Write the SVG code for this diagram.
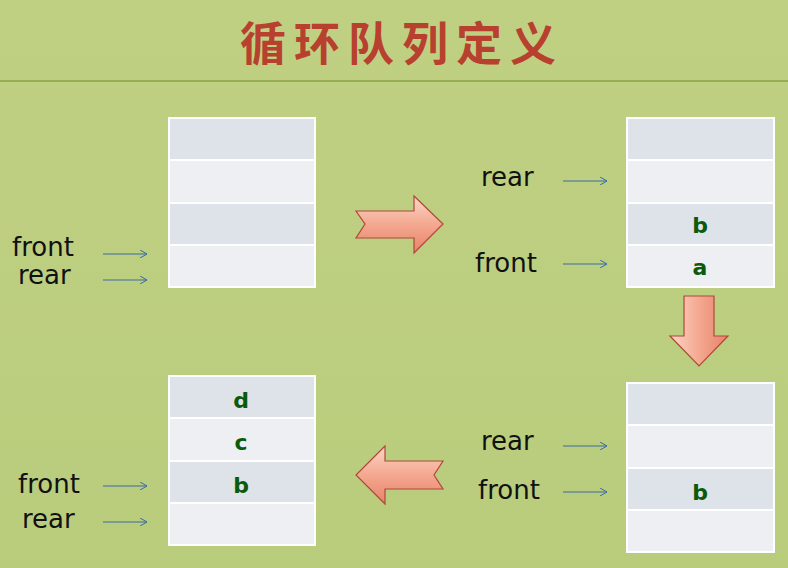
<svg xmlns="http://www.w3.org/2000/svg" width="788" height="568" viewBox="0 0 788 568">
<defs>
<linearGradient id="bg" x1="0" y1="0" x2="0" y2="1"><stop offset="0" stop-color="#c0d083"/><stop offset="1" stop-color="#b9cc7c"/></linearGradient>
<linearGradient id="pk" x1="0" y1="0" x2="0" y2="1"><stop offset="0" stop-color="#fbd6c8"/><stop offset="0.5" stop-color="#f4a890"/><stop offset="1" stop-color="#e8826a"/></linearGradient>
<linearGradient id="pkh" x1="0" y1="0" x2="1" y2="0"><stop offset="0" stop-color="#fbd6c8"/><stop offset="0.5" stop-color="#f4a890"/><stop offset="1" stop-color="#e8826a"/></linearGradient>
<marker id="ah" markerWidth="8" markerHeight="8" refX="7" refY="4" orient="auto" markerUnits="userSpaceOnUse"><path d="M0,0 L7,4 L0,8" fill="none" stroke="#3a6aa0" stroke-width="1"/></marker>
<style>
.c1{fill:#dde3e8}.c2{fill:#edeff3}
.lb{font-family:"DejaVu Sans",sans-serif;font-size:26px;fill:#111}
.v{font-family:"DejaVu Sans",sans-serif;font-size:22px;font-weight:bold;fill:#0a5a0a;text-anchor:middle}
.ptr{stroke:#3a6aa0;stroke-width:1;marker-end:url(#ah)}
.big{stroke:#b0483a;stroke-width:1.2}
</style>
</defs>
<rect width="788" height="568" fill="url(#bg)"/>
<line x1="0" y1="81" x2="788" y2="81" stroke="#95ad55" stroke-width="2"/>
<text x="402" y="60" text-anchor="middle" font-family="Noto Sans CJK SC,sans-serif" font-weight="bold" font-size="46" fill="#b8402e" letter-spacing="8">循环队列定义</text>

<g id="q1">
<rect x="168" y="117" width="148" height="171" fill="#fff"/>
<rect class="c1" x="170" y="119" width="144" height="40"/><rect class="c2" x="170" y="161" width="144" height="41"/>
<rect class="c1" x="170" y="204" width="144" height="40"/><rect class="c2" x="170" y="246" width="144" height="40"/>
<text class="lb" x="12" y="256">front</text><text class="lb" x="18" y="284">rear</text>
</g>
<g id="q2">
<rect x="626" y="117" width="149" height="171" fill="#fff"/>
<rect class="c1" x="628" y="119" width="145" height="40"/><rect class="c2" x="628" y="161" width="145" height="41"/>
<rect class="c1" x="628" y="204" width="145" height="40"/><rect class="c2" x="628" y="246" width="145" height="40"/>
<text class="v" x="700" y="233">b</text><text class="v" x="700" y="275">a</text>
<text class="lb" x="481" y="186">rear</text><text class="lb" x="475" y="272">front</text>
</g>
<g id="q3">
<rect x="626" y="382" width="149" height="171" fill="#fff"/>
<rect class="c1" x="628" y="384" width="145" height="40"/><rect class="c2" x="628" y="426" width="145" height="41"/>
<rect class="c1" x="628" y="469" width="145" height="40"/><rect class="c2" x="628" y="511" width="145" height="40"/>
<text class="v" x="700" y="500">b</text>
<text class="lb" x="481" y="450">rear</text><text class="lb" x="478" y="499">front</text>
</g>
<g id="q4">
<rect x="168" y="375" width="148" height="171" fill="#fff"/>
<rect class="c1" x="170" y="377" width="144" height="40"/><rect class="c2" x="170" y="419" width="144" height="41"/>
<rect class="c1" x="170" y="462" width="144" height="40"/><rect class="c2" x="170" y="504" width="144" height="40"/>
<text class="v" x="241" y="408">d</text><text class="v" x="241" y="450">c</text><text class="v" x="241" y="493">b</text>
<text class="lb" x="18" y="493">front</text><text class="lb" x="22" y="528">rear</text>
</g>
<g id="connectors">
<line class="ptr" x1="103" y1="254" x2="147" y2="254"/>
<line class="ptr" x1="103" y1="280" x2="147" y2="280"/>
<line class="ptr" x1="563" y1="181" x2="607" y2="181"/>
<line class="ptr" x1="563" y1="264" x2="607" y2="264"/>
<line class="ptr" x1="563" y1="446" x2="607" y2="446"/>
<line class="ptr" x1="563" y1="492" x2="607" y2="492"/>
<line class="ptr" x1="103" y1="486" x2="147" y2="486"/>
<line class="ptr" x1="103" y1="522" x2="147" y2="522"/>
<path class="big" fill="url(#pk)" d="M356,211 L414,211 L414,196 L443,224 L414,253 L414,238 L356,238 L365,224 Z"/>
<path class="big" fill="url(#pkh)" d="M684,296 L714,296 L714,336 L728,336 L699,366 L670,336 L684,336 Z"/>
<path class="big" fill="url(#pk)" d="M443,461 L385,461 L385,446 L356,475 L385,504 L385,489 L443,489 L434,475 Z"/>
</g>
</svg>
